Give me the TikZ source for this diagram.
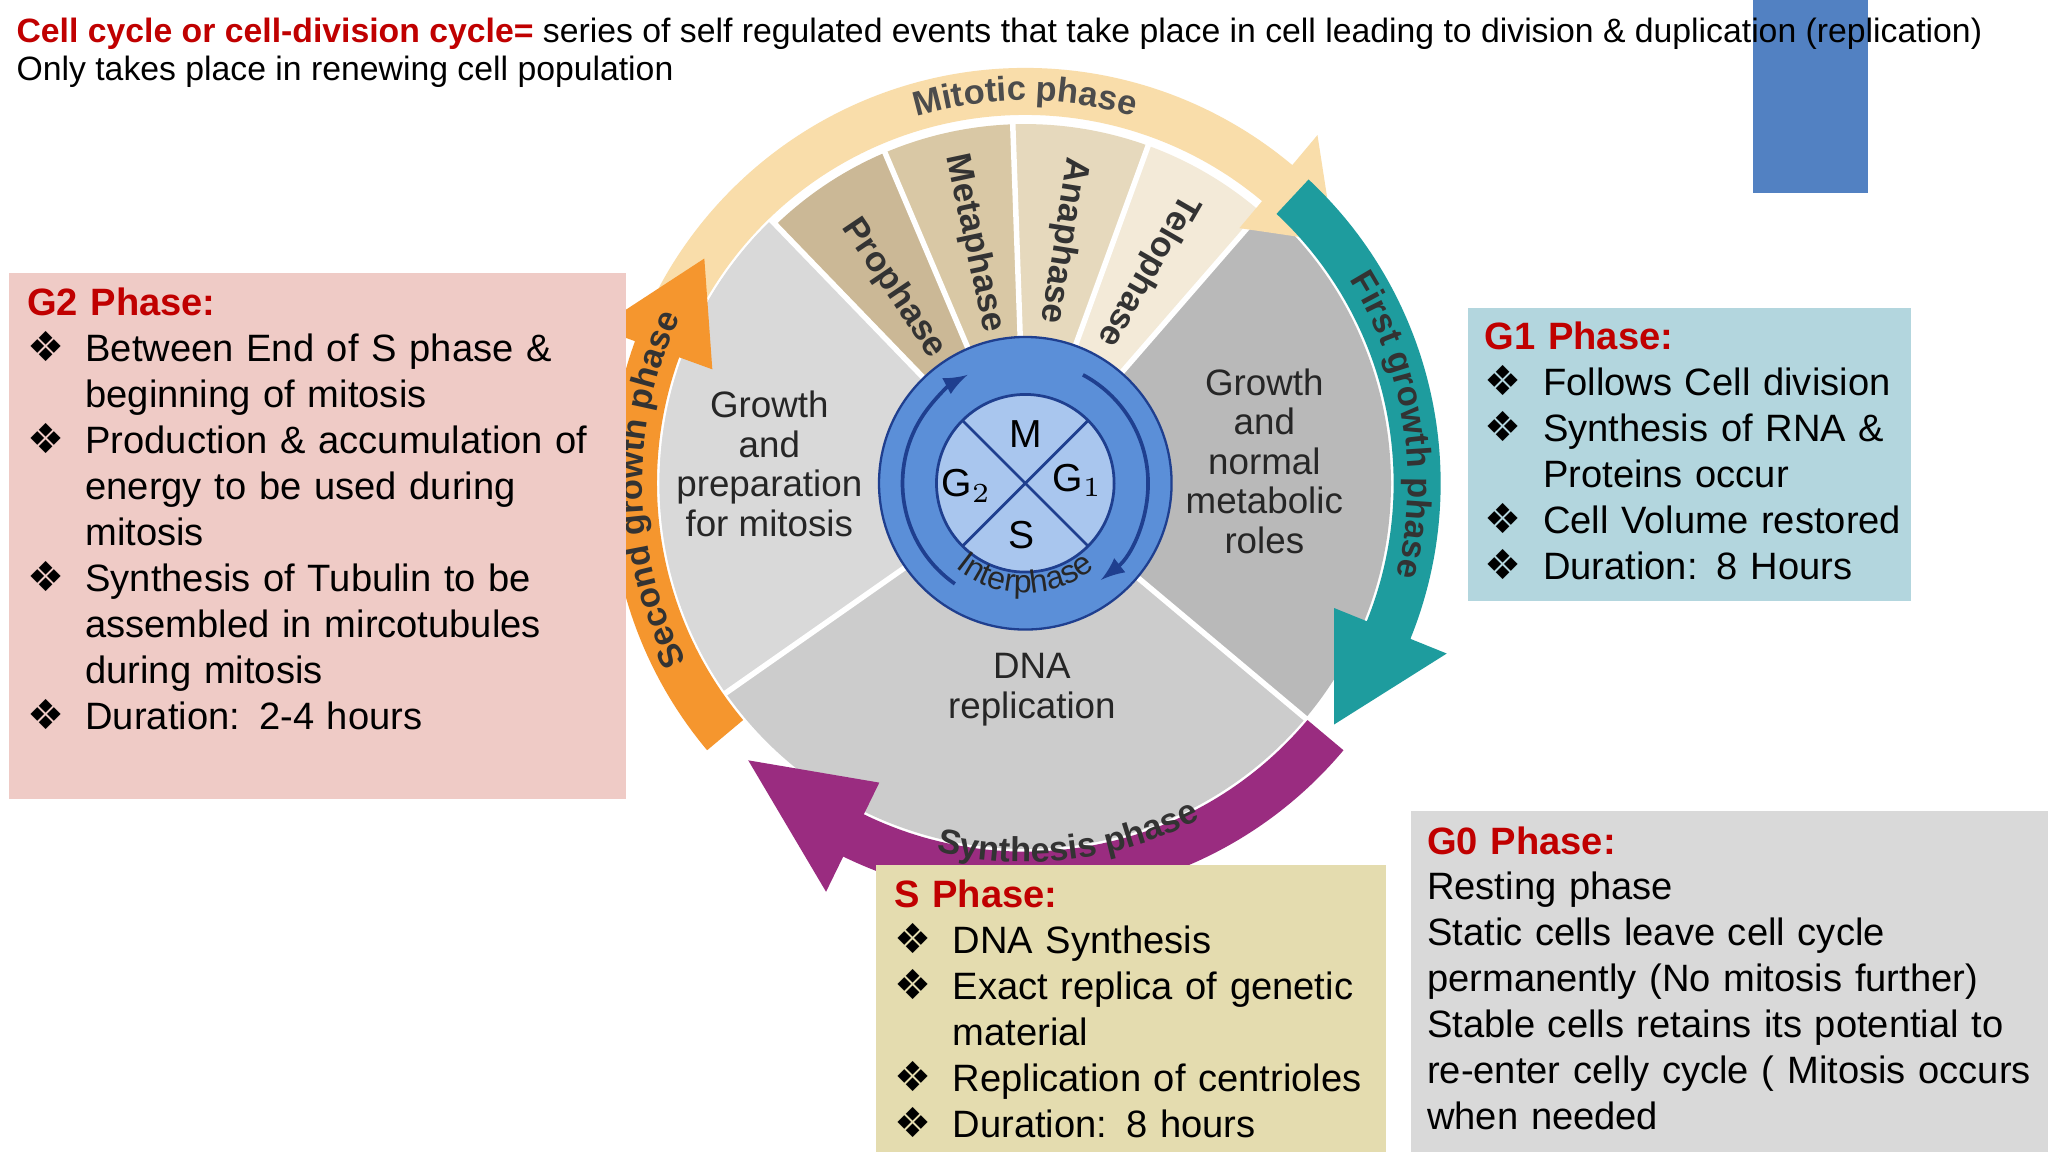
\documentclass[tikz,border=0pt]{standalone}
\usepackage{fontspec}
\setmainfont{Liberation Sans}
\newfontfamily\sym{DejaVu Sans}
\usetikzlibrary{decorations.text}
\definecolor{gtwo}{HTML}{EFCBC6}
\definecolor{gone}{HTML}{B3D6DE}
\definecolor{sbox}{HTML}{E4DCAF}
\definecolor{gzero}{HTML}{D9D9D9}
\definecolor{redt}{HTML}{C00000}
\definecolor{mit}{HTML}{F9DDAA}
\definecolor{teal1}{HTML}{1E9C9E}
\definecolor{purp}{HTML}{9A2C80}
\definecolor{oran}{HTML}{F5962E}
\definecolor{ringb}{HTML}{5B8FD8}
\definecolor{innb}{HTML}{A9C6EE}
\definecolor{darkb}{HTML}{1F3F8F}
\definecolor{wa}{HTML}{CBB896}
\definecolor{wb}{HTML}{D9C8A5}
\definecolor{wc}{HTML}{E6D9BD}
\definecolor{wd}{HTML}{F3EAD8}
\newcommand\bl{\makebox[2.9ex][l]{\sym\small ❖}}
\newcommand\ind{\hspace*{2.9ex}}
\newcommand\cycband[4]{%
  \fill[#4] (#1:282) arc[start angle=#1,end angle=#2,radius=282] -- (#2:255) -- (#3:300) -- (#2:348) -- (#2:318) arc[start angle=#2,end angle=#1,radius=318] -- cycle;}
\tikzset{
  btxt/.style={anchor=north west,align=left,font=\fontsize{8.3}{10}\selectfont,inner sep=0pt},
  wl/.style={font=\fontsize{7.6}{9}\selectfont\bfseries,text=black!80},
  rl/.style={font=\fontsize{8}{8.6}\selectfont,text=black!85,align=center},
}
\begin{document}
\begin{tikzpicture}[x=0.01cm,y=0.01cm]
\useasboundingbox (0,0) rectangle (1568,-882);
\fill[white] (0,0) rectangle (1568,-882);
\fill[ringb!90!black] (1342,0) rectangle (1430,-148);
% header
\node[anchor=north west,inner sep=0pt,font=\fontsize{7.35}{8.2}\selectfont,align=left] (hdr) at (12,-13)
 {{\color{redt}\bfseries Cell cycle or cell-division cycle=} series of self regulated events that take place in cell leading to division \& duplication (replication)\\Only takes place in renewing cell population};
% cycle
\begin{scope}[shift={(785,-370)}]
 \fill[gray!30] (134:280) arc[start angle=134,end angle=215,radius=280] -- (0,0) -- cycle;
 \fill[gray!55] (49:280) arc[start angle=49,end angle=-40,radius=280] -- (0,0) -- cycle;
 \fill[gray!40] (-40:280) arc[start angle=-40,end angle=-145,radius=280] -- (0,0) -- cycle;
 \fill[gray!30] (-145:280) arc[start angle=-145,end angle=-226,radius=280] -- (0,0) -- cycle;
 \fill[wa] (0,0) -- (134:275) arc[start angle=134,end angle=113,radius=275] -- cycle;
 \fill[wb] (0,0) -- (113:275) arc[start angle=113,end angle=92,radius=275] -- cycle;
 \fill[wc] (0,0) -- (92:275) arc[start angle=92,end angle=70,radius=275] -- cycle;
 \fill[wd] (0,0) -- (70:275) arc[start angle=70,end angle=49,radius=275] -- cycle;
 \foreach \a in {134,113,92,70,49,-40,-145} \draw[white,line width=1.2pt] (0,0) -- (\a:282);
 % bands
 \cycband{152}{50}{38}{mit}
 \cycband{47}{-22}{-38}{teal1}
 \cycband{-40}{-116}{-135}{purp}
 \cycband{-140}{-200}{-215}{oran}
 \path[decorate,decoration={text along path,text align=center,text={|\fontsize{7.5}{8}\selectfont\bfseries\color{black!70}|Mitotic phase}}] (115:293) arc[start angle=115,end angle=65,radius=293];
 \path[decorate,decoration={text along path,text align=center,text={|\fontsize{7.5}{8}\selectfont\bfseries\color{black!80}|First growth phase}}] (40:293) arc[start angle=40,end angle=-22,radius=293];
 \path[decorate,decoration={text along path,text align=center,text={|\fontsize{7.5}{8}\selectfont\bfseries\color{black!80}|Synthesis phase}}] (-108:290) arc[start angle=-108,end angle=-58,radius=290];
 \path[decorate,decoration={text along path,text align=center,text={|\fontsize{7.5}{8}\selectfont\bfseries\color{black!80}|Second growth phase}}] (-150:293) arc[start angle=-150,end angle=-208,radius=293];
 % wedge labels
 \node[wl,rotate=-56] (pro) at (124:180) {Prophase};
 \node[wl,rotate=-78] (met) at (102:188) {Metaphase};
 \node[wl,rotate=-99] (ana) at (81:188) {Anaphase};
 \node[wl,rotate=-120] (tel) at (60:188) {Telophase};
 \node[rl] (g2t) at (-196,15) {Growth\\and\\preparation\\for mitosis};
 \node[rl] (g1t) at (183,17) {Growth\\and\\normal\\metabolic\\roles};
 \node[rl] (st) at (5,-158) {DNA\\replication};
 % inner
 \fill[ringb] (0,0) circle[radius=112];
 \draw[darkb,line width=0.5pt] (0,0) circle[radius=112];
 \fill[innb] (0,0) circle[radius=68];
 \draw[darkb,line width=0.6pt] (0,0) circle[radius=68] (45:68) -- (225:68) (135:68) -- (-45:68);
 \draw[darkb,line width=0.8pt,-latex] (-125:94) arc[start angle=235,end angle=118,radius=94];
 \draw[darkb,line width=0.8pt,-latex] (62:94) arc[start angle=62,end angle=-52,radius=94];
 \path[decorate,decoration={text along path,text align=center,text={|\fontsize{7}{8}\selectfont\color{black!85}|Interphase}}] (-140:84) arc[start angle=-140,end angle=-40,radius=84];
 \node[font=\fontsize{8.5}{9}\selectfont] (M) at (0,38) {M};
 \node[font=\fontsize{8.5}{9}\selectfont] (G1) at (40,2) {G$_1$};
 \node[font=\fontsize{8.5}{9}\selectfont] (G2) at (-45,-2) {G$_2$};
 \node[font=\fontsize{8.5}{9}\selectfont] (S) at (-3,-40) {S};
\end{scope}
% boxes
\fill[gtwo] (7,-209) rectangle (479,-612);
\node[btxt,text width=455] (g2) at (20,-220) {{\bfseries\color{redt}G2 Phase:}\\
\bl Between End of S phase \&\\\ind beginning of mitosis\\
\bl Production \& accumulation of\\\ind energy to be used during\\\ind mitosis\\
\bl Synthesis of Tubulin to be\\\ind assembled in mircotubules\\\ind during mitosis\\
\bl Duration: 2-4 hours};
\fill[gone] (1124,-236) rectangle (1463,-460);
\node[btxt,text width=330] (g1) at (1136,-246) {{\bfseries\color{redt}G1 Phase:}\\
\bl Follows Cell division\\
\bl Synthesis of RNA \&\\\ind Proteins occur\\
\bl Cell Volume restored\\
\bl Duration: 8 Hours};
\fill[sbox] (671,-662) rectangle (1061,-882);
\node[btxt,text width=380] (sp) at (684,-673) {{\bfseries\color{redt}S Phase:}\\
\bl DNA Synthesis\\
\bl Exact replica of genetic\\\ind material\\
\bl Replication of centrioles\\
\bl Duration: 8 hours};
\fill[gzero] (1080,-621) rectangle (1568,-882);
\node[btxt,text width=480] (g0) at (1092,-632) {{\bfseries\color{redt}G0 Phase:}\\
Resting phase\\
Static cells leave cell cycle\\
permanently (No mitosis further)\\
Stable cells retains its potential to\\
re-enter celly cycle ( Mitosis occurs\\
when needed};
\end{tikzpicture}
\end{document}
